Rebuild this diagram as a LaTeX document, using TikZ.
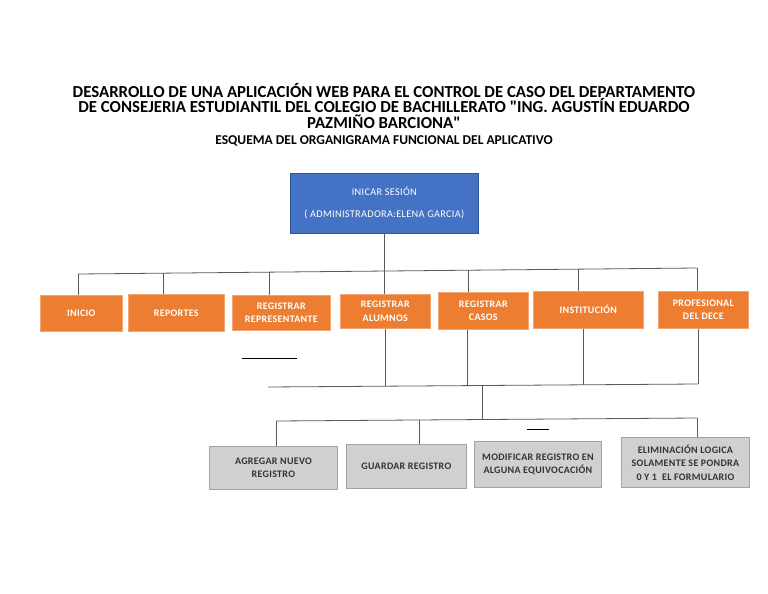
\documentclass[tikz,border=0pt]{standalone}
\usepackage{fontspec}
\setmainfont{Carlito}
\newfontfamily\titlefont{Carlito}
\newfontfamily\boxfont[LetterSpace=3]{Carlito}
\definecolor{bluebox}{HTML}{4472C4}
\definecolor{blueedge}{HTML}{2F5597}
\definecolor{orangebox}{HTML}{ED7D31}
\definecolor{orangeedge}{HTML}{F4A470}
\definecolor{graybox}{HTML}{D0D0D0}
\definecolor{grayedge}{HTML}{A3A3A3}
\definecolor{graytext}{HTML}{333333}
\definecolor{linecol}{HTML}{5A5A5A}
\tikzset{
  box/.style={anchor=north west, inner sep=0pt, align=center, font=\boxfont\fontsize{10}{13.5}\selectfont\bfseries},
  obox/.style={box, fill=orangebox, draw=orangeedge, line width=0.6pt, text=white},
  gbox/.style={box, fill=graybox, draw=grayedge, line width=0.8pt, text=graytext},
  link/.style={draw=linecol, line width=0.8pt},
}
\begin{document}
\begin{tikzpicture}[x=1pt,y=-1pt]
\useasboundingbox (0,0) rectangle (768,594);
\fill[white] (0,0) rectangle (768,594);

% titles
\node[align=center, font=\titlefont\fontsize{16.8}{15.5}\selectfont\bfseries, text=black] (title) at (384,106)
  {DESARROLLO DE UNA APLICACIÓN WEB PARA EL CONTROL DE CASO DEL DEPARTAMENTO\\
   DE CONSEJERIA ESTUDIANTIL DEL COLEGIO DE BACHILLERATO "ING. AGUSTÍN EDUARDO\\
   PAZMIÑO BARCIONA"};
\node[font=\fontsize{13.5}{14}\selectfont\bfseries, text=black] (subtitle) at (384,141)
  {ESQUEMA DEL ORGANIGRAMA FUNCIONAL DEL APLICATIVO};

% top box
\node[anchor=north west, inner sep=0pt, minimum width=188pt, minimum height=60pt,
      fill=bluebox, draw=blueedge, line width=0.6pt, text=white, align=center,
      font=\boxfont\fontsize{10.3}{22}\selectfont] (login) at (290,173)
  {INICAR SESIÓN\\( ADMINISTRADORA:ELENA GARCIA)};

% second level
\node[obox, minimum width=82pt, minimum height=36pt] (inicio) at (40,295) {INICIO};
\node[obox, minimum width=96pt, minimum height=37pt] (reportes) at (128,294) {REPORTES};
\node[obox, minimum width=98pt, minimum height=35pt] (representante) at (232,295) {REGISTRAR\\REPRESENTANTE};
\node[obox, minimum width=90pt, minimum height=34pt] (alumnos) at (340,294) {REGISTRAR\\ALUMNOS};
\node[obox, minimum width=90pt, minimum height=37pt] (casos) at (438,292) {REGISTRAR\\CASOS};
\node[obox, minimum width=110pt, minimum height=37pt] (institucion) at (533,291) {INSTITUCIÓN};
\node[obox, minimum width=90pt, minimum height=37pt] (profesional) at (658,291) {PROFESIONAL\\DEL DECE};

% third level
\node[gbox, minimum width=128pt, minimum height=43pt] (agregar) at (209,446) {AGREGAR NUEVO\\REGISTRO};
\node[gbox, minimum width=120pt, minimum height=44pt] (guardar) at (346,444) {GUARDAR REGISTRO};
\node[gbox, minimum width=127pt, minimum height=46pt] (modificar) at (474,441) {MODIFICAR REGISTRO EN\\ALGUNA EQUIVOCACIÓN};
\node[gbox, minimum width=128pt, minimum height=50pt] (eliminar) at (621,437) {ELIMINACIÓN LOGICA\\SOLAMENTE SE PONDRA\\0 Y 1~ EL FORMULARIO};

% top bus
\coordinate (tb1) at (78,274);
\coordinate (tb2) at (163,273.2);
\coordinate (tb3) at (269,272.1);
\coordinate (tb5) at (468,270.2);
\coordinate (tb6) at (578,269.2);
\coordinate (tb7) at (697,268);
\draw[link] (tb1) -- (tb7);
\draw[link] (login.south) -- (login.south |- alumnos.north);
\draw[link] (tb1) -- (tb1 |- inicio.north);
\draw[link] (tb2) -- (tb2 |- reportes.north);
\draw[link] (tb3) -- (tb3 |- representante.north);
\draw[link] (tb5) -- (tb5 |- casos.north);
\draw[link] (tb6) -- (tb6 |- institucion.north);
\draw[link] (tb7) -- (tb7 |- profesional.north);

% middle bus
\coordinate (mb0) at (268,387);
\coordinate (mb4) at (385,386);
\coordinate (mb5) at (467,385.5);
\coordinate (mbj) at (482,385.3);
\coordinate (mb6) at (583,384.5);
\coordinate (mb7) at (698,384);
\draw[link] (mb0) -- (mb7);
\draw[link] (mb4) -- (mb4 |- alumnos.south);
\draw[link] (mb5) -- (mb5 |- casos.south);
\draw[link] (mb6) -- (mb6 |- institucion.south);
\draw[link] (mb7) -- (mb7 |- profesional.south);

% lower bus
\coordinate (lb1) at (276,421);
\coordinate (lb2) at (419,419.6);
\coordinate (lbj) at (482,419.2);
\coordinate (lb4) at (697,418);
\draw[link] (lb1) -- (lb4);
\draw[link] (mbj) -- (lbj);
\draw[link] (lb1) -- (lb1 |- agregar.north);
\draw[link] (lb2) -- (lb2 |- guardar.north);
\draw[link] (lb4) -- (lb4 |- eliminar.north);

% stray short lines
\coordinate (s1a) at (242,358);
\coordinate (s1b) at (297,358);
\draw[link, draw=black] (s1a) -- (s1b);
\coordinate (s2a) at (527,429);
\coordinate (s2b) at (549,429);
\draw[link, draw=black] (s2a) -- (s2b);
\end{tikzpicture}
\end{document}
